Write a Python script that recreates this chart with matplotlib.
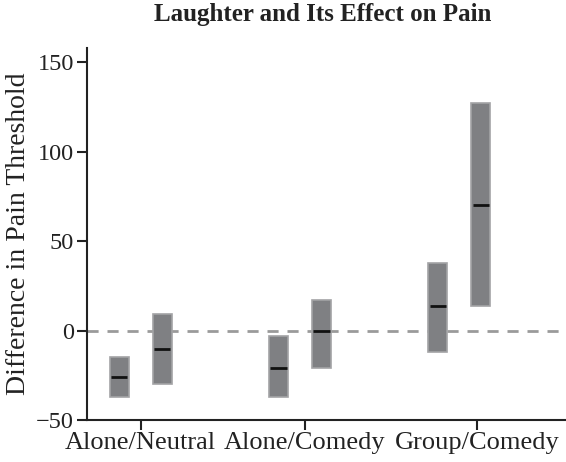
import matplotlib
matplotlib.use("Agg")
import matplotlib.pyplot as plt
import numpy as np

plt.rcParams['font.family'] = ['Liberation Serif', 'DejaVu Serif']

groups = ["Alone/Neutral", "Alone/Comedy", "Group/Comedy"]
# two bars per group: (low, high, mean)
low = [-37, -30, -37, -21, -12, 13.5]
high = [-15, 9, -3, 17, 38, 127]
mean = [-26, -10.5, -21, 0, 14, 70]

yticks = [-50, 0, 50, 100, 150]

fig = plt.figure(figsize=(5.66, 4.62), dpi=100)
ax = fig.add_axes([0.153, 0.091, 0.847, 0.805])

group_x = np.arange(len(groups))
offset = 0.135
width = 0.12
bar_x = np.ravel([[g - offset, g + offset] for g in group_x])

ax.axhline(0, color="#9a9a9a", lw=2, ls=(0, (4, 3.2)), zorder=1)

for x, lo, hi, m in zip(bar_x, low, high, mean):
    ax.bar(x, hi - lo, bottom=lo, width=width, color="#7f8083",
           edgecolor="#a3a3a5", linewidth=1.2, zorder=2)
    ax.plot([x - width * 0.42, x + width * 0.42], [m, m], color="#111111",
            lw=2, solid_capstyle="butt", zorder=3)

ax.set_xlim(-0.34, 2.67)
ax.set_ylim(-50, 158)
ax.set_yticks(yticks)
ax.set_yticklabels(["\u221250", "0", "50", "100", "150"])
ax.set_xticks(group_x + np.array([0.0, 0.03, 0.11]))
ax.set_xticklabels(groups)

for s in ["top", "right"]:
    ax.spines[s].set_visible(False)
for s in ["left", "bottom"]:
    ax.spines[s].set_linewidth(1.5)
    ax.spines[s].set_color("#222222")
ax.tick_params(axis="both", length=7, width=1.5, color="#222222",
               labelcolor="#222222")
ax.tick_params(axis="y", pad=2, labelsize=17.5)
ax.tick_params(axis="x", pad=2, labelsize=19)

ax.set_ylabel("Difference in Pain Threshold", fontsize=20, color="#222222",
              labelpad=4)
fig.text(0.57, 0.968, "Laughter and Its Effect on Pain", ha="center",
         va="center", fontsize=18, fontweight="bold", color="#222222")

fig.savefig("out.png", dpi=100)
